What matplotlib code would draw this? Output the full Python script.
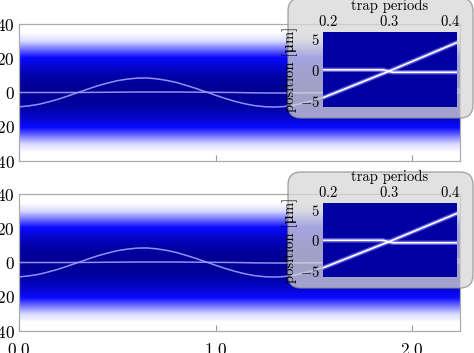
import numpy as np
import matplotlib
matplotlib.use('Agg')
import matplotlib.pyplot as plt
from matplotlib.colors import LinearSegmentedColormap
from matplotlib.patches import FancyBboxPatch
from matplotlib.transforms import IdentityTransform

plt.rcParams['font.family'] = ['cmr10', 'DejaVu Serif']
plt.rcParams['mathtext.fontset'] = 'cm'
plt.rcParams['axes.formatter.use_mathtext'] = True

# density profile across the trap (position in um -> colour level)
profile_y = [-40, -35, -30, -25, -20, -15, -10, -5, 0, 5, 10, 15, 20, 25, 30, 35, 40]
profile_level = [0, 0, 0.08, 0.3, 0.52, 0.74, 0.9, 0.98, 1, 0.98, 0.9, 0.74, 0.52, 0.3, 0.08, 0, 0]

# trajectories drawn over the density
wave_x = [0, 0.05, 0.1, 0.15, 0.2, 0.25, 0.3, 0.35, 0.4, 0.45, 0.5, 0.55, 0.6,
          0.65, 0.7, 0.75, 0.8, 0.85, 0.9, 0.95, 1.0, 1.05, 1.1, 1.15, 1.2,
          1.25, 1.3, 1.35, 1.4, 1.5, 1.6, 1.7, 1.8, 1.9, 2.0, 2.1, 2.2, 2.244]
wave_y = [-8.4, -7.8, -6.9, -5.5, -3.9, -2.0, 0.0, 2.0, 3.9, 5.5, 6.9, 7.8, 8.4,
          8.5, 8.0, 7.1, 5.9, 4.2, 2.4, 0.4, -1.6, -3.5, -5.2, -6.6, -7.7,
          -8.3, -8.5, -8.2, -7.4, -4.6, -0.8, 3.2, 6.4, 8.3, 8.2, 6.4, 3.1, 1.6]
flat_y = [0.0, 0.0, 0.0, 0.0, 0.0, 0.0, 0.0, 0.05, 0.1, 0.15, 0.2, 0.25, 0.3,
          0.3, 0.3, 0.3, 0.3, 0.25, 0.2, 0.15, 0.1, 0.05, 0.0, -0.1, -0.2,
          -0.25, -0.3, -0.3, -0.3, -0.2, 0.0, 0.2, 0.3, 0.3, 0.2, 0.1, 0.0, 0.0]

# zoomed inset: two crossing tracks
inset_a_x = [0.192, 0.298, 0.411]
inset_a_y = [-4.5, -0.3, 4.4]
inset_b_x = [0.192, 0.290, 0.306, 0.411]
inset_b_y = [0.0, 0.0, -0.4, -0.4]

xmax = 2.244
cmap = LinearSegmentedColormap.from_list(
    'dens', [(0, 'white'), (0.5, '#0a0aff'), (1, '#000096')])


def draw_panel(fig, rect, show_xlabels):
    ax = fig.add_axes(rect)
    img = np.array([profile_level, profile_level]).T
    ax.imshow(img, cmap=cmap, vmin=0, vmax=1, aspect='auto', origin='lower',
              interpolation='bilinear',
              extent=[0, xmax, profile_y[0] - 2.5, profile_y[-1] + 2.5])
    ax.plot(wave_x, wave_y, color='#a0a0ff', lw=1.1, alpha=0.9)
    ax.plot(wave_x, flat_y, color='#a0a0ff', lw=1.1, alpha=0.9)
    ax.set_xlim(0, xmax)
    ax.set_ylim(-40, 40)
    ax.set_xticks([0, 1, 2])
    ax.set_yticks([-40, -20, 0, 20, 40])
    ax.xaxis.set_major_formatter(matplotlib.ticker.FormatStrFormatter('$%.1f$'))
    ax.tick_params(axis='x', direction='in', length=4, color='#999999',
                   labelsize=12.5, pad=8, labelbottom=show_xlabels)
    ax.tick_params(axis='y', direction='in', length=0, labelsize=12.5, pad=3)
    for s in ax.spines.values():
        s.set_color('#aaaaaa')
        s.set_linewidth(0.9)
    return ax


def draw_inset(fig, rect, box):
    x0, y0, w, h = box
    patch = FancyBboxPatch((x0, y0), w, h,
                           boxstyle='round,pad=0,rounding_size=13',
                           transform=IdentityTransform(),
                           facecolor='#d8d8d8', edgecolor='#8c8c8c',
                           alpha=0.75, lw=1.0, zorder=1)
    fig.add_artist(patch)
    ax = fig.add_axes(rect, zorder=2)
    ax.set_facecolor('#0000a3')
    ax.plot(inset_a_x, inset_a_y, color='#9090ff', lw=3.2, alpha=0.6)
    ax.plot(inset_b_x, inset_b_y, color='#9090ff', lw=3.2, alpha=0.6)
    ax.plot(inset_a_x, inset_a_y, color='white', lw=1.2)
    ax.plot(inset_b_x, inset_b_y, color='white', lw=1.2)
    ax.set_xlim(0.192, 0.411)
    ax.set_ylim(-6, 6.1)
    ax.set_xticks([0.2, 0.3, 0.4])
    ax.set_yticks([-5, 0, 5])
    ax.xaxis.set_major_formatter(matplotlib.ticker.FormatStrFormatter('$%.1f$'))
    ax.tick_params(length=0, labelsize=10.5, pad=2.5,
                   labeltop=True, labelbottom=False)
    ax.xaxis.set_label_position('top')
    ax.set_xlabel('trap periods', fontsize=10.5, labelpad=2.5)
    ax.set_ylabel('position [μm]', fontsize=10.5, labelpad=1)
    for s in ax.spines.values():
        s.set_visible(False)
    return ax


fig = plt.figure(figsize=(4.74, 3.53), dpi=100)
draw_panel(fig, [0.0401, 0.5439, 0.9304, 0.3881], False)
draw_panel(fig, [0.0401, 0.0623, 0.9304, 0.3881], True)
draw_inset(fig, [0.6814, 0.6969, 0.2827, 0.2125], (288, 235, 185, 120))
draw_inset(fig, [0.6814, 0.2153, 0.2827, 0.2096], (288, 65, 185, 116))
fig.savefig('out.png', dpi=100)
